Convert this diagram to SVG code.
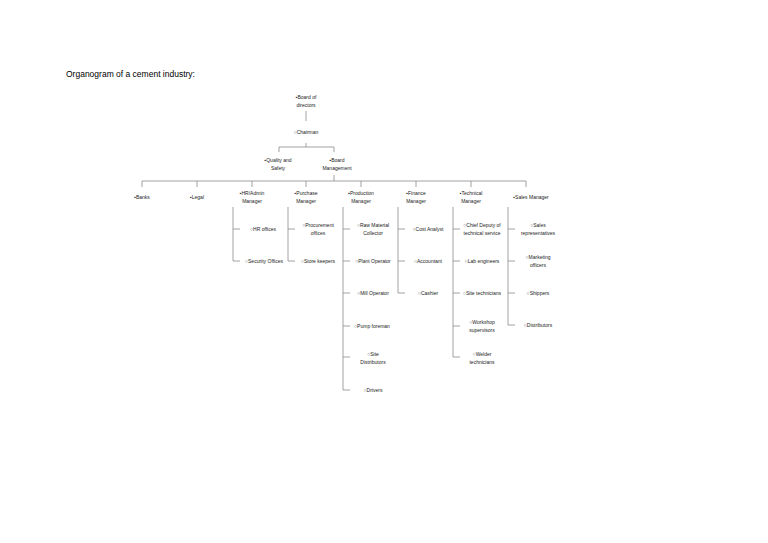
<svg xmlns="http://www.w3.org/2000/svg" width="768" height="543" viewBox="0 0 768 543">
<style>
text{font-family:"Liberation Sans",Arial,sans-serif;font-size:5px;fill:#222;text-anchor:middle}
.t{font-size:8.5px;text-anchor:start;fill:#000}
.c line{stroke:#8a8a8a;stroke-width:0.8}
</style>
<rect width="768" height="543" fill="#fff"/>
<text class="t" x="66" y="77">Organogram of a cement industry:</text>
<g class="c" id="connectors">
<line x1="306" y1="111" x2="306" y2="121"/>
<line x1="306" y1="143" x2="306" y2="147"/>
<line x1="279" y1="147" x2="334" y2="147"/>
<line x1="279" y1="147" x2="279" y2="152"/>
<line x1="334" y1="147" x2="334" y2="152"/>
<line x1="334" y1="175" x2="334" y2="181"/>
<line x1="142" y1="181" x2="526" y2="181"/>
<line x1="142" y1="181" x2="142" y2="187"/>
<line x1="197" y1="181" x2="197" y2="187"/>
<line x1="252" y1="181" x2="252" y2="187"/>
<line x1="306" y1="181" x2="306" y2="187"/>
<line x1="361" y1="181" x2="361" y2="187"/>
<line x1="416" y1="181" x2="416" y2="187"/>
<line x1="471" y1="181" x2="471" y2="187"/>
<line x1="526" y1="181" x2="526" y2="187"/>
<line x1="233" y1="207" x2="233" y2="261"/>
<line x1="233" y1="229" x2="240" y2="229"/><line x1="233" y1="261" x2="240" y2="261"/>
<line x1="288" y1="207" x2="288" y2="261"/>
<line x1="288" y1="229" x2="295" y2="229"/><line x1="288" y1="261" x2="295" y2="261"/>
<line x1="343" y1="207" x2="343" y2="390"/>
<line x1="343" y1="229" x2="350" y2="229"/><line x1="343" y1="261" x2="350" y2="261"/><line x1="343" y1="293" x2="350" y2="293"/><line x1="343" y1="326" x2="350" y2="326"/><line x1="343" y1="357" x2="350" y2="357"/><line x1="343" y1="390" x2="350" y2="390"/>
<line x1="398" y1="207" x2="398" y2="293"/>
<line x1="398" y1="229" x2="405" y2="229"/><line x1="398" y1="261" x2="405" y2="261"/><line x1="398" y1="293" x2="405" y2="293"/>
<line x1="453" y1="207" x2="453" y2="357"/>
<line x1="453" y1="229" x2="460" y2="229"/><line x1="453" y1="261" x2="460" y2="261"/><line x1="453" y1="293" x2="460" y2="293"/><line x1="453" y1="326" x2="460" y2="326"/><line x1="453" y1="357" x2="460" y2="357"/>
<line x1="508" y1="207" x2="508" y2="325"/>
<line x1="508" y1="229" x2="515" y2="229"/><line x1="508" y1="261" x2="515" y2="261"/><line x1="508" y1="293" x2="515" y2="293"/><line x1="508" y1="325" x2="515" y2="325"/>
</g>
<g id="board"><text x="306" y="99">▪Board of</text><text x="306" y="107">directors</text></g>
<g id="chairman"><text x="306" y="134">○Chairman</text></g>
<g id="quality"><text x="278" y="162">▪Quality and</text><text x="278" y="170">Safety</text></g>
<g id="boardmgmt"><text x="337" y="162">▪Board</text><text x="337" y="170">Management</text></g>
<g id="banks"><text x="142" y="199">▪Banks</text></g>
<g id="legal"><text x="197" y="199">▪Legal</text></g>
<g id="hr"><text x="252" y="195">▪HR/Admin</text><text x="252" y="203">Manager</text></g>
<g id="purchase"><text x="306" y="195">▪Purchase</text><text x="306" y="203">Manager</text></g>
<g id="production"><text x="361" y="195">▪Production</text><text x="361" y="203">Manager</text></g>
<g id="finance"><text x="416" y="195">▪Finance</text><text x="416" y="203">Manager</text></g>
<g id="technical"><text x="471" y="195">▪Technical</text><text x="471" y="203">Manager</text></g>
<g id="sales"><text x="531" y="199">▪Sales Manager</text></g>
<g id="hr-kids"><text x="263" y="231">○HR offices</text><text x="264" y="263">○Security Offices</text></g>
<g id="purchase-kids"><text x="318" y="227">○Procurement</text><text x="318" y="235">offices</text><text x="318" y="263">○Store keepers</text></g>
<g id="production-kids"><text x="373" y="227">○Raw Material</text><text x="373" y="235">Collector</text><text x="373" y="263">○Plant Operator</text><text x="373" y="295">○Mill Operator</text><text x="372" y="328">○Pump foreman</text><text x="373" y="356">○Site</text><text x="373" y="364">Distributors</text><text x="373" y="392">○Drivers</text></g>
<g id="finance-kids"><text x="428" y="231">○Cost Analyst</text><text x="428" y="263">○Accountant</text><text x="428" y="295">○Cashier</text></g>
<g id="technical-kids"><text x="482" y="227">○Chief Deputy of</text><text x="482" y="235">technical service</text><text x="482" y="263">○Lab engineers</text><text x="482" y="295">○Site technicians</text><text x="482" y="324">○Workshop</text><text x="482" y="332">supervisors</text><text x="482" y="356">○Welder</text><text x="482" y="364">technicians</text></g>
<g id="sales-kids"><text x="538" y="227">○Sales</text><text x="538" y="235">representatives</text><text x="538" y="259">○Marketing</text><text x="538" y="267">officers</text><text x="538" y="295">○Shippers</text><text x="538" y="327">○Distributors</text></g>
</svg>
